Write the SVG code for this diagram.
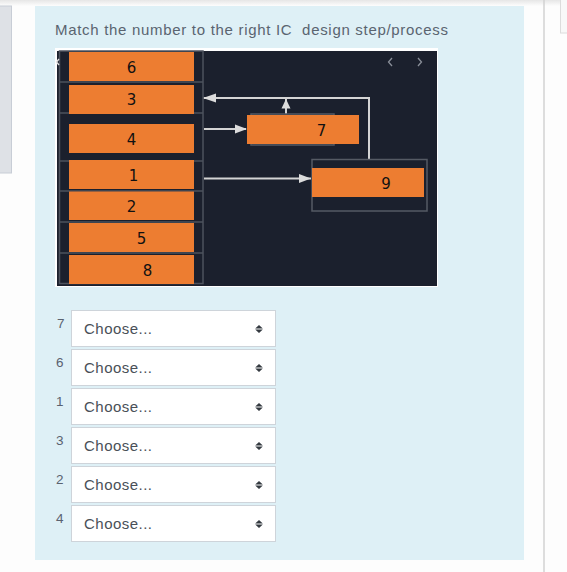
<svg xmlns="http://www.w3.org/2000/svg" width="567" height="572" viewBox="0 0 567 572">
<defs>
<style>
.page{fill:#fdfdfd}
.panel{fill:#def0f6}
.dark{fill:#1b202d}
.col{fill:none;stroke:#4d525d;stroke-width:1.5}
.org{fill:#ed7d31}
.olbox{fill:none;stroke:#555a64;stroke-width:1.5}
.num{font-family:"DejaVu Sans",sans-serif;font-size:15px;fill:#111}
.conn{fill:none;stroke:#d4d4d4;stroke-width:2}
.ah{fill:#dcdcdc}
.sel{fill:#ffffff;stroke:#ced4da;stroke-width:1}
.choose{font-family:"Liberation Sans",sans-serif;font-size:15px;fill:#495057}
.lbl{font-family:"Liberation Sans",sans-serif;font-size:13.5px;fill:#5a6270}
.caret{fill:#343a40}
.nav{fill:none;stroke:#8a8f99;stroke-width:1.3}
</style>
<linearGradient id="shadow" x1="0" y1="0" x2="0" y2="1">
<stop offset="0" stop-color="#e6e6e6"/>
<stop offset="1" stop-color="#fdfdfd"/>
</linearGradient>
<marker id="arr" viewBox="0 0 13 9" refX="13" refY="4.5" markerWidth="13" markerHeight="9" orient="auto" markerUnits="userSpaceOnUse">
<path d="M0,0 L13,4.5 L0,9 z" class="ah"/>
</marker>
</defs>

<g id="background">
<rect class="page" x="0" y="0" width="567" height="572"/>
<rect x="0" y="0" width="567" height="6" fill="url(#shadow)"/>
<rect x="-1" y="6" width="12.5" height="167" fill="#dee1e6" stroke="#c8cdd6" stroke-width="1"/>
<rect class="panel" x="35" y="6" width="489" height="554"/>
<line x1="544" y1="0" x2="544" y2="572" stroke="#d2d2d2" stroke-width="1.5"/>
<rect x="560.5" y="-1" width="8" height="34" fill="#f8f8f8" stroke="#dcdcdc" stroke-width="1"/>
<text x="55" y="35" font-family="'Liberation Sans',sans-serif" font-size="15" fill="#5a6470" textLength="393" lengthAdjust="spacing" style="white-space:pre" xml:space="preserve">Match the number to the right IC  design step/process</text>
</g>

<g id="image">
<rect x="55" y="48" width="383" height="239" fill="#ffffff"/>
<rect class="dark" x="57" y="51" width="380" height="235"/>
<rect class="col" x="59.5" y="51" width="143.5" height="232.5"/>
<line class="col" x1="59.5" y1="82" x2="203" y2="82"/>
<line class="col" x1="59.5" y1="113" x2="203" y2="113"/>
<line class="col" x1="59.5" y1="161" x2="203" y2="161"/>
<line class="col" x1="59.5" y1="191" x2="203" y2="191"/>
<line class="col" x1="59.5" y1="222" x2="203" y2="222"/>
<line class="col" x1="59.5" y1="253" x2="203" y2="253"/>
<path d="M59,59 L56.5,62 L59,65" fill="none" stroke="#e0e0e0" stroke-width="1.3"/>
<path class="nav" d="M392,58 L388.5,62 L392,66"/>
<path class="nav" d="M418,58 L421.5,62 L418,66"/>
</g>

<g id="connectors">
<path class="conn" d="M369,159 V98 H204"/>
<path class="conn" d="M286,114 V99"/>
<path class="conn" d="M204,129 H246"/>
<path class="conn" d="M204,178.5 H311"/>
<path class="ah" d="M203,98 L216,93.5 L216,102.5 z"/>
<path class="ah" d="M286,99 L290.5,108.5 L281.5,108.5 z"/>
<path class="ah" d="M247,129 L235,124.5 L235,133.5 z"/>
<path class="ah" d="M311,178.5 L299,174 L299,183 z"/>
</g>

<g id="box-6"><rect class="org" x="69" y="52" width="125" height="29"/><text class="num" x="131.5" y="73" text-anchor="middle">6</text></g>
<g id="box-3"><rect class="org" x="69" y="85" width="125" height="29"/><text class="num" x="131.5" y="105" text-anchor="middle">3</text></g>
<g id="box-4"><rect class="org" x="69" y="124" width="125" height="29"/><text class="num" x="131.5" y="145" text-anchor="middle">4</text></g>
<g id="box-1"><rect class="org" x="69" y="160" width="125" height="29"/><text class="num" x="133.5" y="180.5" text-anchor="middle">1</text></g>
<g id="box-2"><rect class="org" x="69" y="191.5" width="125" height="28.5"/><text class="num" x="131.5" y="212" text-anchor="middle">2</text></g>
<g id="box-5"><rect class="org" x="69" y="223" width="125" height="29"/><text class="num" x="141.5" y="244" text-anchor="middle">5</text></g>
<g id="box-8"><rect class="org" x="69" y="255" width="125" height="29"/><text class="num" x="147.5" y="276" text-anchor="middle">8</text></g>

<g id="box-7">
<rect class="olbox" x="251" y="114" width="83" height="31"/>
<rect class="org" x="247" y="115" width="112" height="29"/>
<text class="num" x="321.5" y="135.5" text-anchor="middle">7</text>
</g>

<g id="box-9">
<rect class="olbox" x="312" y="159.5" width="115" height="51.5"/>
<rect class="org" x="312" y="168" width="112" height="29"/>
<text class="num" x="386" y="189" text-anchor="middle">9</text>
</g>

<g id="row-7">
<text class="lbl" x="57" y="328">7</text>
<rect class="sel" x="71.5" y="310.5" width="204" height="36"/>
<text class="choose" x="84" y="334" textLength="68" lengthAdjust="spacing">Choose...</text>
<path class="caret" d="M259,325 L262.8,328.6 L255.2,328.6 z M259,333 L262.8,329.6 L255.2,329.6 z"/>
</g>
<g id="row-6">
<text class="lbl" x="56" y="367">6</text>
<rect class="sel" x="71.5" y="349.5" width="204" height="36"/>
<text class="choose" x="84" y="373" textLength="68" lengthAdjust="spacing">Choose...</text>
<path class="caret" d="M259,364 L262.8,367.6 L255.2,367.6 z M259,372 L262.8,368.6 L255.2,368.6 z"/>
</g>
<g id="row-1">
<text class="lbl" x="56" y="406">1</text>
<rect class="sel" x="71.5" y="388.5" width="204" height="36"/>
<text class="choose" x="84" y="412" textLength="68" lengthAdjust="spacing">Choose...</text>
<path class="caret" d="M259,403 L262.8,406.6 L255.2,406.6 z M259,411 L262.8,407.6 L255.2,407.6 z"/>
</g>
<g id="row-3">
<text class="lbl" x="56" y="445">3</text>
<rect class="sel" x="71.5" y="427.5" width="204" height="36"/>
<text class="choose" x="84" y="451" textLength="68" lengthAdjust="spacing">Choose...</text>
<path class="caret" d="M259,442 L262.8,445.6 L255.2,445.6 z M259,450 L262.8,446.6 L255.2,446.6 z"/>
</g>
<g id="row-2">
<text class="lbl" x="56" y="484">2</text>
<rect class="sel" x="71.5" y="466.5" width="204" height="36"/>
<text class="choose" x="84" y="490" textLength="68" lengthAdjust="spacing">Choose...</text>
<path class="caret" d="M259,481 L262.8,484.6 L255.2,484.6 z M259,489 L262.8,485.6 L255.2,485.6 z"/>
</g>
<g id="row-4">
<text class="lbl" x="56" y="523">4</text>
<rect class="sel" x="71.5" y="505.5" width="204" height="36"/>
<text class="choose" x="84" y="529" textLength="68" lengthAdjust="spacing">Choose...</text>
<path class="caret" d="M259,520 L262.8,523.6 L255.2,523.6 z M259,528 L262.8,524.6 L255.2,524.6 z"/>
</g>
</svg>
